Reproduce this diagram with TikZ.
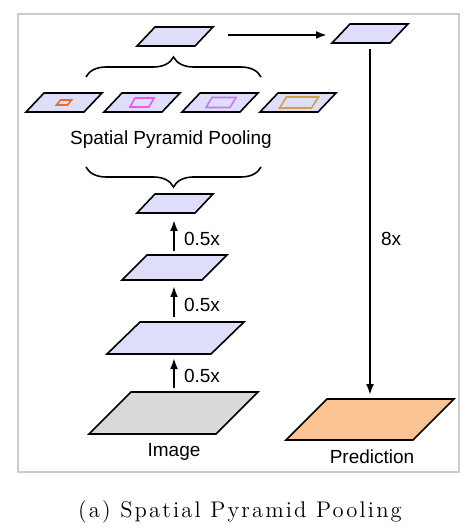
\documentclass[tikz,border=0pt]{standalone}
\usepackage{fontspec}
\setsansfont{Liberation Sans}
\newfontfamily\capfont{lmroman12-regular.otf}[LetterSpace=9.5]
\usepackage{tikz}
\usetikzlibrary{arrows.meta,decorations.pathreplacing}

\definecolor{slabfill}{HTML}{DEDEFA}
\definecolor{imgfill}{HTML}{D9D9D9}
\definecolor{predfill}{HTML}{FAC393}
\definecolor{binA}{HTML}{EE6A2C}
\definecolor{binB}{HTML}{F452F4}
\definecolor{binC}{HTML}{C47AF4}
\definecolor{binD}{HTML}{D2A23E}

\tikzset{
	slab/.style={draw=black, line width=0.8pt, fill=slabfill},
	flow/.style={line width=1pt, -{Latex[length=5.5pt,width=4pt]}},
	lbl/.style={font=\sffamily\fontsize{9.5}{11}\selectfont, inner sep=0pt},
	curly/.style={decorate, decoration={brace, amplitude=10pt}, line width=0.8pt},
	frame/.style={draw=black!20, line width=0.6pt}
}

\begin{document}
\begin{tikzpicture}[x=0.5pt,y=-0.5pt]
			\useasboundingbox (0,0) rectangle (467,528);
			\draw[frame] (18,14) rectangle (459,472);
			% pooled feature and its copy
			\draw[slab] (137,46) -- ++(58,0) -- ++(18,-19) -- ++(-58,0) -- cycle;
			\draw[slab] (332,43) -- ++(58,0) -- ++(18,-19) -- ++(-58,0) -- cycle;
			\coordinate (pool-e) at (228,35);
			\coordinate (out-w) at (327,35);
			\draw[flow] (pool-e) -- (out-w);
			% pyramid bins
			\draw[curly] (86,77) -- (261,77);
			\foreach \i in {0,1,2,3}
				\draw[slab] ({26+78*\i},112) -- ++(58,0) -- ++(18,-19) -- ++(-58,0) -- cycle;
			\foreach \c/\w/\s/\h/\col in {64/11/4/5/binA,142/19/5/9/binB,221/24/6/10/binC,299/32/7/11/binD}
				\draw[draw=\col, line width=0.8pt] ({\c-(\w+\s)/2},{102.5+\h/2}) -- ++(\w,0) -- ++(\s,-\h) -- ++(-\w,0) -- cycle;
			\node[lbl] (spp) at (171,140) {Spatial Pyramid Pooling};
			\draw[curly] (261,167) -- (86,167);
			% backbone
			\draw[slab] (137,213) -- ++(58,0) -- ++(18,-19) -- ++(-58,0) -- cycle;
			\draw[slab] (122,280) -- ++(80,0) -- ++(25,-25) -- ++(-80,0) -- cycle;
			\draw[slab] (107,354) -- ++(104,0) -- ++(33,-32) -- ++(-104,0) -- cycle;
			\draw[slab, fill=imgfill] (89,434) -- ++(127,0) -- ++(42,-42) -- ++(-127,0) -- cycle;
			\node[lbl] (image) at (174,452) {Image};
			\coordinate (l3-s) at (174,251);
			\coordinate (l3-n) at (174,220);
			\coordinate (l2-s) at (174,317);
			\coordinate (l2-n) at (174,286);
			\coordinate (l1-s) at (174,388);
			\coordinate (l1-n) at (174,358);
			\draw[flow] (l3-s) -- node[lbl, pos=.4, anchor=west, xshift=4.5pt] {0.5x} (l3-n);
			\draw[flow] (l2-s) -- node[lbl, pos=.4, anchor=west, xshift=4.5pt] {0.5x} (l2-n);
			\draw[flow] (l1-s) -- node[lbl, pos=.4, anchor=west, xshift=4.5pt] {0.5x} (l1-n);
			% upsampling
			\draw[slab, fill=predfill] (286,440) -- ++(127,0) -- ++(41,-41) -- ++(-127,0) -- cycle;
			\node[lbl] (pred) at (372,457) {Prediction};
			\coordinate (out-s) at (370,49);
			\coordinate (pred-n) at (370,395);
			\draw[flow] (out-s) -- node[lbl, pos=.55, anchor=west, xshift=5pt] {8x} (pred-n);
			\node[font=\capfont\fontsize{11.3}{13}\selectfont, inner sep=0pt] (caption) at (240,512) {(a) Spatial Pyramid Pooling};
		\end{tikzpicture}
\end{document}
